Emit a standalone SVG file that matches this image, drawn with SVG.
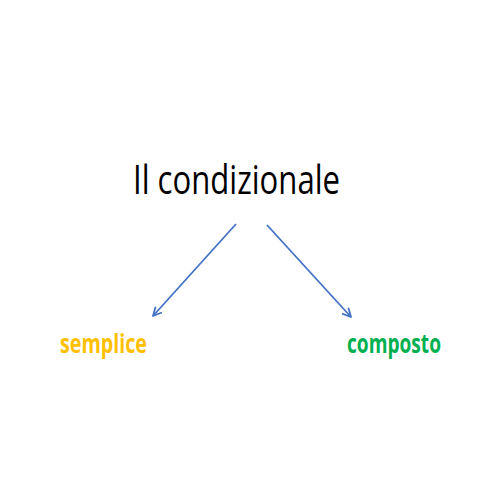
<svg xmlns="http://www.w3.org/2000/svg" width="480" height="480" viewBox="0 0 480 480">
<style>
.t{font-family:"Open Sans","Noto Sans","Liberation Sans",sans-serif}
.c{stroke:#4472C4;stroke-width:1.8;fill:none}
</style>
<defs>
<marker id="ah" viewBox="0 0 10 10" refX="9" refY="5" markerWidth="5.5" markerHeight="5.5" markerUnits="strokeWidth" orient="auto">
<path d="M1,1 L9,5 L1,9" fill="none" stroke="#4472C4" stroke-width="1.8" stroke-linecap="round" stroke-linejoin="round"/>
</marker>
</defs>
<rect width="480" height="480" fill="#ffffff"/>
<g id="title"><text class="t" x="133" y="194" font-size="40" fill="#000000" textLength="207" lengthAdjust="spacingAndGlyphs">Il condizionale</text></g>
<g id="semplice"><text class="t" x="60" y="353" font-size="27" font-weight="bold" fill="#FFC000" textLength="87" lengthAdjust="spacingAndGlyphs">semplice</text></g>
<g id="composto"><text class="t" x="347" y="353" font-size="27" font-weight="bold" fill="#00B050" textLength="94" lengthAdjust="spacingAndGlyphs">composto</text></g>
<g id="connectors">
<line class="c" x1="236" y1="224" x2="153" y2="316" marker-end="url(#ah)"/>
<line class="c" x1="267" y1="225" x2="351" y2="317" marker-end="url(#ah)"/>
</g>
</svg>
